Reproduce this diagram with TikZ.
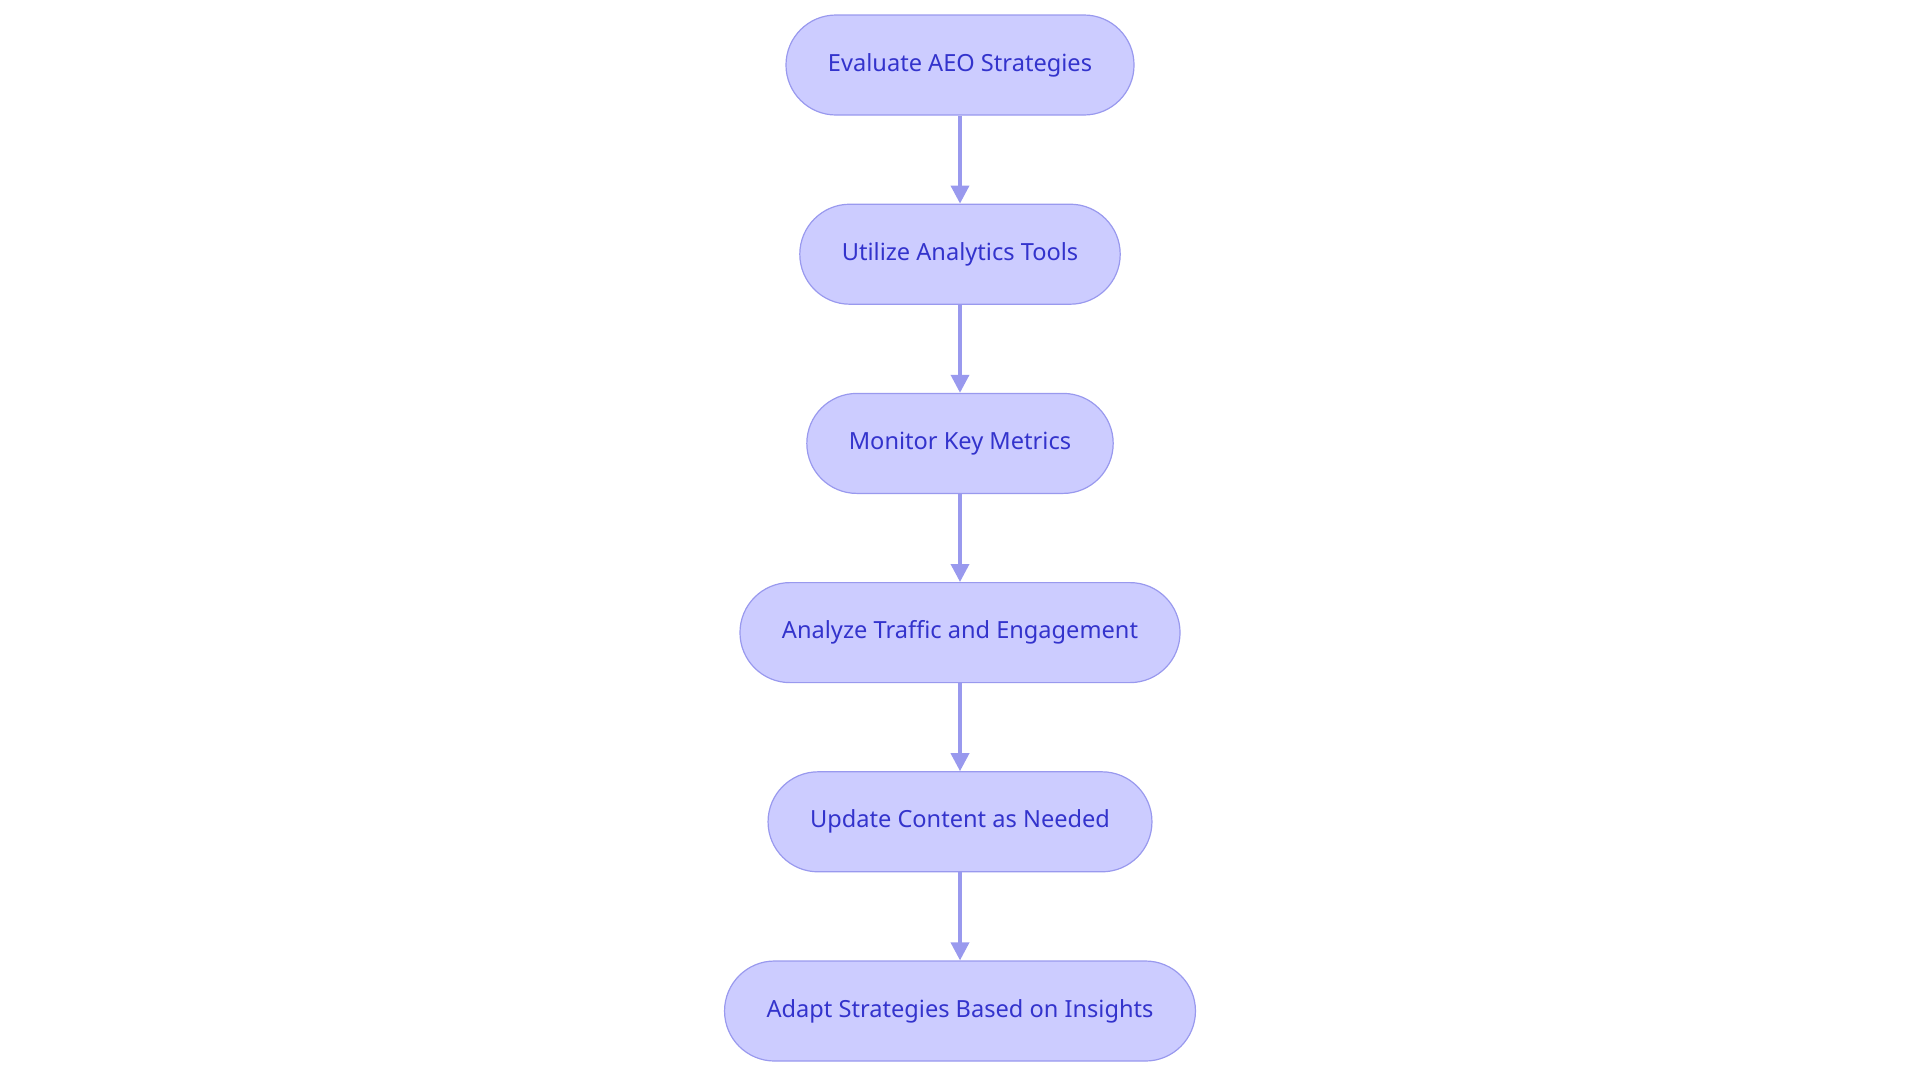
\documentclass[tikz,border=0pt]{standalone}
\usepackage{fontspec}
\setmainfont{Noto Sans}
\usetikzlibrary{positioning, arrows.meta}
\definecolor{stepfill}{HTML}{CCCCFF}
\definecolor{stepline}{HTML}{9999EE}
\definecolor{steptext}{HTML}{3333CC}
\tikzstyle{stage} = [rectangle, rounded corners=25pt, minimum height=50pt,
    inner xsep=21pt, text centered, draw=stepline, line width=0.6pt,
    fill=stepfill, text=steptext, font=\fontsize{11.8}{14}\selectfont]
\tikzstyle{arrow} = [draw=stepline, line width=1.8pt, -{Triangle[length=9pt, width=9pt]}]
\begin{document}
\begin{tikzpicture}[node distance=44pt]
            \useasboundingbox (0,0) rectangle (960pt,-541.5pt);
            % Steps
            \node[stage] (evaluate) at (480pt,-32.5pt) {Evaluate AEO Strategies};
            \node[stage, below=of evaluate] (utilize) {Utilize Analytics Tools};
            \node[stage, below=of utilize] (monitor) {Monitor Key Metrics};
            \node[stage, below=of monitor] (analyze) {Analyze Traffic and Engagement};
            \node[stage, below=of analyze] (update) {Update Content as Needed};
            \node[stage, below=of update] (adapt) {Adapt Strategies Based on Insights};
            % Arrows
            \draw[arrow] (evaluate) -- (utilize);
            \draw[arrow] (utilize) -- (monitor);
            \draw[arrow] (monitor) -- (analyze);
            \draw[arrow] (analyze) -- (update);
            \draw[arrow] (update) -- (adapt);
        \end{tikzpicture}
\end{document}
